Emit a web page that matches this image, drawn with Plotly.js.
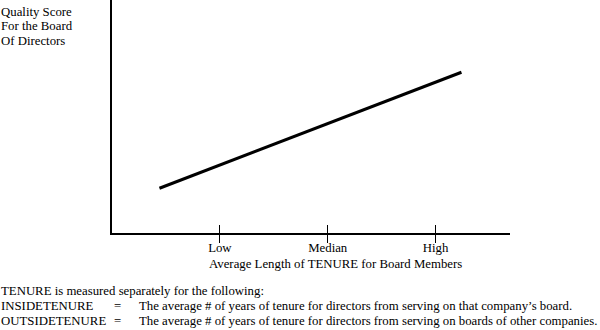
<!DOCTYPE html>
<html>
<head>
<meta charset="utf-8">
<script src="https://cdn.plot.ly/plotly-3.0.1.min.js"></script>
<style>html,body{margin:0;padding:0;background:#fff;}#chart{width:600px;height:330px;}</style>
</head>
<body>
<div id="chart"></div>
<script>
// ---- data ----
const tickValues = [1, 2, 3];
const tickLabels = ["Low", "Median", "High"];
const lineX = [0.44, 3.24];          // average tenure (relative scale)
const lineY = [1.92, 6.90];          // quality score (relative scale)
const yLabelLines = ["Quality Score", "For the Board", "Of Directors"];
const xTitle = "Average Length of TENURE for Board Members";
const noteIntro = "TENURE is measured separately for the following:";
const noteNames = ["INSIDETENURE", "OUTSIDETENURE"];
const noteDefs = [
  "The average # of years of tenure for directors from serving on that company\u2019s board.",
  "The average # of years of tenure for directors from serving on boards of other companies."
];

// ---- layout geometry ----
const W = 600, H = 330;
const L = 112, R = 510, T = 0, B = 233;
const px = x => (x - L) / (R - L);
const py = y => (B - y) / (B - T);
const FONT = "Liberation Serif, Times New Roman, serif";
const fs = 12.8;

const ann = [];
function addText(text, x, y, anchor) {
  ann.push({text: text, xref: "paper", yref: "paper", x: px(x), y: py(y),
    xanchor: anchor || "left", yanchor: "middle", showarrow: false,
    borderpad: 0, font: {family: FONT, size: fs, color: "#000"}});
}
const yLabelY = [12, 26, 41];
yLabelLines.forEach((t, i) => addText(t, 0, yLabelY[i]));
addText(xTitle, 335, 264, "center");
addText(noteIntro, 0, 291);
const noteY = [306, 321];
noteNames.forEach((n, i) => {
  addText(n, 0, noteY[i]);
  addText("=", 117, noteY[i], "center");
  addText(noteDefs[i], 138, noteY[i]);
});

const traces = [
  {x: lineX, y: lineY, type: "scatter", mode: "lines",
   line: {color: "#000", width: 3}, hoverinfo: "skip", showlegend: false}
];

const xr = [0, 3.69];
const layout = {
  width: W, height: H,
  margin: {l: L, r: W - R, t: T, b: H - B, pad: 0},
  paper_bgcolor: "#fff", plot_bgcolor: "#fff",
  font: {family: FONT, size: fs, color: "#000"},
  showlegend: false,
  xaxis: {range: xr, tickvals: tickValues, ticktext: tickLabels,
    ticks: "outside", ticklen: 8, tickwidth: 1, tickcolor: "#000",
    ticklabelstandoff: -6,
    minor: {tickvals: tickValues, ticks: "inside", ticklen: 8, tickwidth: 1,
      tickcolor: "#000", showgrid: false},
    showline: true, linecolor: "#000", linewidth: 2,
    showgrid: false, zeroline: false, fixedrange: true,
    tickfont: {family: FONT, size: fs, color: "#000"}},
  yaxis: {range: [0, 10], showline: true, linecolor: "#000", linewidth: 2,
    ticks: "", showticklabels: false, showgrid: false, zeroline: false,
    fixedrange: true},
  annotations: ann
};

Plotly.newPlot("chart", traces, layout, {staticPlot: true, displayModeBar: false});
</script>
</body>
</html>
